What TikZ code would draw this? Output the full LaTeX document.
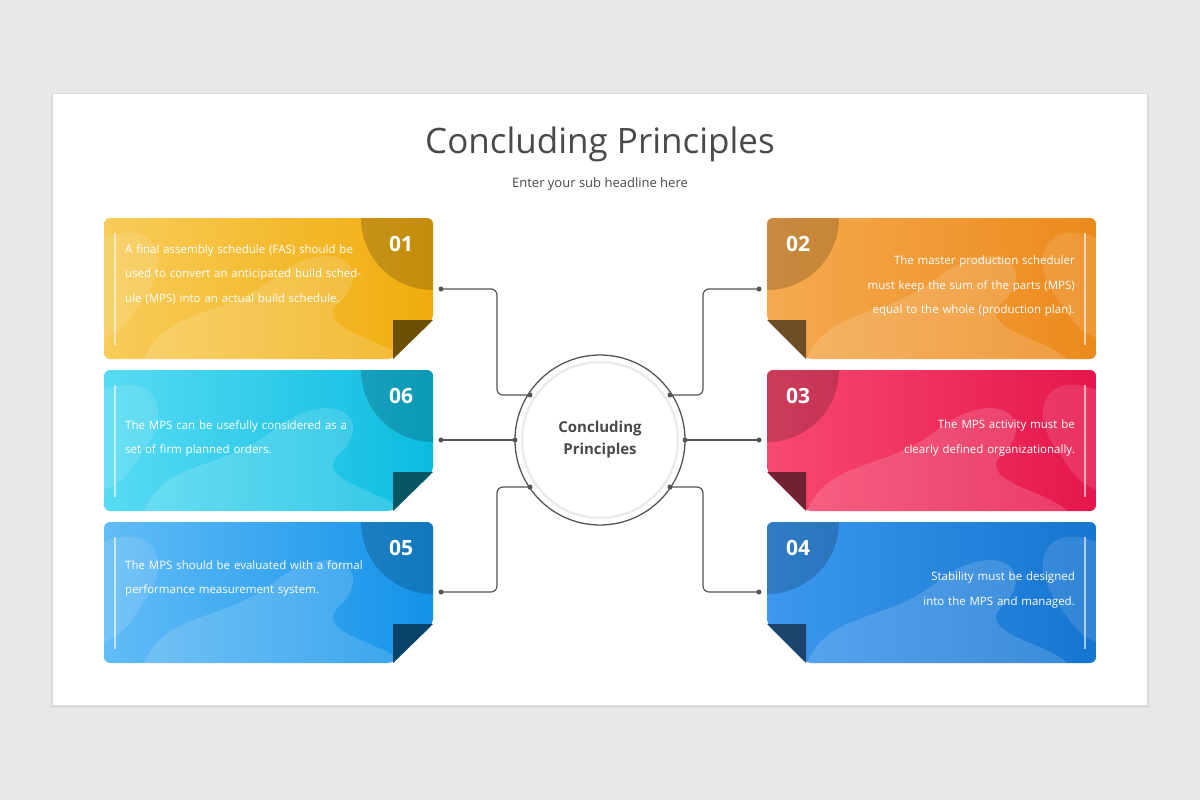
\documentclass[tikz,border=0pt]{standalone}
\usepackage{fontspec}
\setmainfont{Open Sans}
\usetikzlibrary{calc}
\definecolor{bgc}{HTML}{E8E7E9}
\definecolor{ttl}{HTML}{4A4A4A}
\definecolor{lineg}{HTML}{555555}
\definecolor{yA}{HTML}{F8CC5A}\definecolor{yB}{HTML}{F0AC0C}
\definecolor{cA}{HTML}{58DBF3}\definecolor{cB}{HTML}{0BBCE0}
\definecolor{bA}{HTML}{62BCF6}\definecolor{bB}{HTML}{1392E9}
\definecolor{oA}{HTML}{F5AA50}\definecolor{oB}{HTML}{EC8A1C}
\definecolor{pA}{HTML}{F84A70}\definecolor{pB}{HTML}{E5164B}
\definecolor{dA}{HTML}{3C98EF}\definecolor{dB}{HTML}{1675D0}
\tikzset{
  conn/.style={draw=lineg,line width=1.2pt,rounded corners=6pt},
  dotc/.style={circle,fill=lineg,inner sep=0pt,minimum size=5pt},
  numtxt/.style={text=white,font=\bfseries\fontsize{21}{21}\selectfont},
  bodyl/.style={text=white,font=\fontsize{11.5}{24.5}\selectfont,align=left,anchor=north west,text width=240pt,inner sep=0pt},
  bodyr/.style={text=white,font=\fontsize{11.5}{24.5}\selectfont,align=right,anchor=north east,text width=240pt,inner sep=0pt},
}
\newcommand{\cardL}[5]{%
  \begin{scope}
  \path[clip,rounded corners=6pt] (#1,#2) -- ++(329,0) -- ++(0,102) -- ++(-40,39) -- ++(-289,0) -- cycle;
  \shade[left color=#3,right color=#4] (#1,#2) rectangle ++(329,141);
  \fill[white,opacity=0.15] (#1+40,#2+141) .. controls (#1+60,#2+90) and (#1+120,#2+100) .. (#1+170,#2+60) .. controls (#1+220,#2+20) and (#1+270,#2+40) .. (#1+240,#2+80) .. controls (#1+200,#2+110) and (#1+280,#2+120) .. (#1+300,#2+141) -- cycle;
  \fill[white,opacity=0.12] (#1,#2+20) .. controls (#1+50,#2+0) and (#1+70,#2+40) .. (#1+40,#2+80) .. controls (#1+20,#2+110) .. (#1,#2+120) -- cycle;
  \fill[black,opacity=0.18] (#1+329,#2) circle (72);
  \end{scope}
  \fill[black!55!#4] (#1+289,#2+102) -- (#1+329,#2+102) -- (#1+289,#2+141) -- cycle;
  \fill[white,opacity=0.6] (#1+10,#2+15) rectangle ++(2,112);
  \node[numtxt] (n#5) at (#1+297,#2+26) {#5};
}
\newcommand{\cardR}[5]{%
  \begin{scope}
  \path[clip,rounded corners=6pt] (#1,#2) -- ++(329,0) -- ++(0,141) -- ++(-290,0) -- ++(-39,-39) -- cycle;
  \shade[left color=#3,right color=#4] (#1,#2) rectangle ++(329,141);
  \fill[white,opacity=0.15] (#1+40,#2+141) .. controls (#1+60,#2+90) and (#1+120,#2+100) .. (#1+170,#2+60) .. controls (#1+220,#2+20) and (#1+270,#2+40) .. (#1+240,#2+80) .. controls (#1+200,#2+110) and (#1+280,#2+120) .. (#1+300,#2+141) -- cycle;
  \fill[white,opacity=0.12] (#1+329,#2+20) .. controls (#1+280,#2+0) and (#1+260,#2+40) .. (#1+290,#2+80) .. controls (#1+310,#2+110) .. (#1+329,#2+120) -- cycle;
  \fill[black,opacity=0.18] (#1,#2) circle (72);
  \end{scope}
  \fill[black!55!#3] (#1,#2+102) -- (#1+39,#2+102) -- (#1+39,#2+141) -- cycle;
  \fill[white,opacity=0.6] (#1+317,#2+15) rectangle ++(2,112);
  \node[numtxt] (n#5) at (#1+31,#2+26) {#5};
}
\begin{document}
\begin{tikzpicture}[x=1pt,y=-1pt]
\fill[bgc] (0,0) rectangle (1200,800);
\fill[black,opacity=0.05] (51,93) rectangle (1149,708);
\fill[white] (53,94) rectangle (1147,705);
\node[text=ttl,font=\fontsize{35}{35}\selectfont] (title) at (600,144) {Concluding Principles};
\node[text=ttl,font=\fontsize{13}{13}\selectfont] (sub) at (600,184) {Enter your sub headline here};

\cardL{104}{218}{yA}{yB}{01}
\cardL{104}{370}{cA}{cB}{06}
\cardL{104}{522}{bA}{bB}{05}
\cardR{767}{218}{oA}{oB}{02}
\cardR{767}{370}{pA}{pB}{03}
\cardR{767}{522}{dA}{dB}{04}

\node[bodyl] (t1) at (125,244) {A final assembly schedule (FAS) should be used to convert an anticipated build schedule (MPS) into an actual build schedule.};
\node[bodyl] (t6) at (125,420) {The MPS can be usefully considered as a set of firm planned orders.};
\node[bodyl] (t5) at (125,560) {The MPS should be evaluated with a formal performance measurement system.};
\node[bodyr] (t2) at (1075,256) {The master production scheduler must keep the sum of the parts (MPS) equal to the whole (production plan).};
\node[bodyr] (t3) at (1075,420) {The MPS activity must be clearly defined organizationally.};
\node[bodyr] (t4) at (1075,572) {Stability must be designed into the MPS and managed.};

\node[circle,draw=lineg,line width=1.3pt,minimum size=170pt,inner sep=0pt] (c) at (600,440) {};
\draw[black!8,line width=2.5pt] (600,440) circle (78);
\node[text=ttl,font=\bfseries\fontsize{15}{22}\selectfont,align=center] (ct) at (600,440) {Concluding\\Principles};

\node[dotc] (a1) at (441,289) {};
\node[dotc] (a6) at (441,440) {};
\node[dotc] (a5) at (441,592) {};
\node[dotc] (a2) at (759,289) {};
\node[dotc] (a3) at (759,440) {};
\node[dotc] (a4) at (759,592) {};
\node[dotc] (b1) at (530,395) {};
\node[dotc] (b6) at (515,440) {};
\node[dotc] (b5) at (530,487) {};
\node[dotc] (b2) at (670,395) {};
\node[dotc] (b3) at (685,440) {};
\node[dotc] (b4) at (670,487) {};
\draw[conn] (a1.center) -| (497,395) -- (b1.center);
\draw[conn] (a6.center) -- (b6.center);
\draw[conn] (a5.center) -| (497,487) -- (b5.center);
\draw[conn] (a2.center) -| (703,395) -- (b2.center);
\draw[conn] (a3.center) -- (b3.center);
\draw[conn] (a4.center) -| (703,487) -- (b4.center);
\end{tikzpicture}
\end{document}
